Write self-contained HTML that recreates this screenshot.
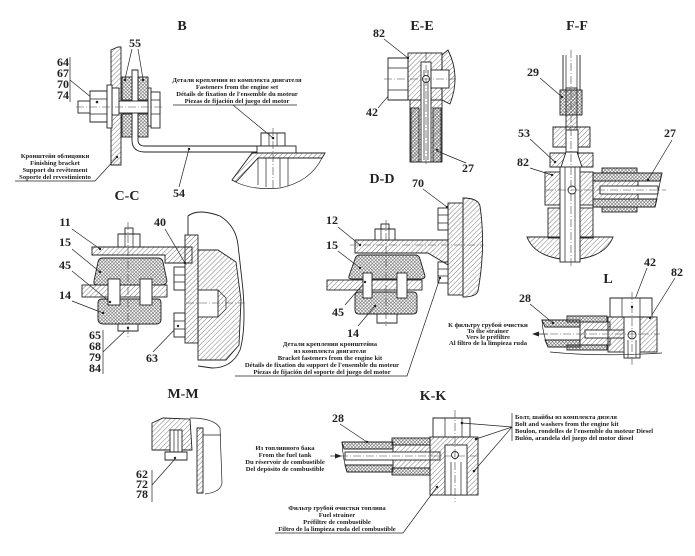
<!DOCTYPE html>
<html><head><meta charset="utf-8"><style>
html,body{margin:0;padding:0;background:#fff}
svg{display:block}
.s{fill:none;stroke:#222;stroke-width:0.9}
.h{fill:url(#h);stroke:#222;stroke-width:0.9}
.m{fill:url(#m);stroke:#222;stroke-width:0.9}
.w{fill:#fff;stroke:#222;stroke-width:0.9}
.c{fill:none;stroke:#444;stroke-width:0.6;stroke-dasharray:8 2 1 2}
.l{fill:none;stroke:#222;stroke-width:0.7}
.d{fill:#222}
text{font-family:"Liberation Serif","DejaVu Serif",serif;font-weight:bold;fill:#222}
.t{font-size:14px;text-anchor:middle}
.n{font-size:12px;text-anchor:middle}
.x{font-size:6.6px;text-anchor:middle}
.xl{font-size:6.6px}
</style></head><body>
<svg width="695" height="556" viewBox="0 0 695 556" xmlns="http://www.w3.org/2000/svg">
<defs>
<pattern id="h" width="3.5" height="3.5" patternUnits="userSpaceOnUse" patternTransform="rotate(45)"><line x1="0" y1="0" x2="0" y2="3.5" stroke="#333" stroke-width="0.65"/></pattern>
<pattern id="m" width="3.4" height="3.4" patternUnits="userSpaceOnUse"><path d="M0,0 L3.4,3.4 M3.4,0 L0,3.4" stroke="#555" stroke-width="0.5"/></pattern>
</defs>

<!-- ===== B ===== -->
<text class="t" x="182" y="30">B</text>
<text class="n" x="135" y="47">55</text>
<path class="l" d="M132,49 L125,79 M138,49 L143,79"/>
<text class="n" x="63" y="66">64</text>
<text class="n" x="63" y="77">67</text>
<text class="n" x="63" y="88">70</text>
<text class="n" x="63" y="99">74</text>
<path class="l" d="M70,57 V102 M70,80 L97,102"/>
<path class="h" d="M111,50 L118,47 L121,47 L121,165 L111,165 Z"/>
<path class="w" d="M132,70 L138,70 L138,140 Q138,146 145,146 L262,146 L262,152 L145,152 Q132,152 132,140 Z"/>
<rect class="m" x="122" y="77" width="10" height="23"/>
<rect class="m" x="138" y="77" width="10" height="23"/>
<rect class="m" x="122" y="114" width="10" height="23"/>
<rect class="m" x="138" y="114" width="10" height="23"/>
<rect class="w" x="78" y="101" width="82" height="12"/>
<rect class="w" x="112" y="88" width="7" height="27"/>
<path class="w" d="M90,91 L107,91 L107,122 L90,122 Z"/>
<path class="l" d="M90,99 H107 M90,114 H107"/>
<rect class="w" x="107" y="85" width="5" height="43"/>
<rect class="w" x="148" y="88" width="3" height="38"/>
<rect class="w" x="151" y="92" width="9" height="36"/>
<path class="l" d="M151,100 H160 M151,114 H160"/>
<path class="c" d="M76,107 H164"/>
<circle class="d" cx="97" cy="102" r="1.3"/>
<circle class="d" cx="125" cy="80" r="1.2"/>
<circle class="d" cx="143" cy="80" r="1.2"/>
<!-- engine side -->
<path class="w" d="M261,133 H285 V146 H261 Z"/>
<path class="l" d="M269,133 V146 M277,133 V146"/>
<rect class="w" x="257" y="146" width="39" height="7"/>
<path class="h" d="M252,153 L325,153 L322,158 L258,158 L236,182 L232,180 Z"/>
<path class="l" d="M258,158 V185 M266,158 V187 M280,158 V187 M288,158 V186"/>
<path class="l" d="M232,180 Q250,191 280,188 Q310,182 322,158"/>
<path class="c" d="M273,128 V190"/>
<circle class="d" cx="273" cy="138" r="1.3"/>
<text class="x" x="237" y="82">Детали крепления из комплекта двигателя</text>
<text class="x" x="237" y="89">Fasteners from the engine set</text>
<text class="x" x="237" y="96">Détails de fixation de l'ensemble du moteur</text>
<text class="x" x="237" y="103">Piezas de fijación del juego del motor</text>
<path class="l" d="M173,105 H297 M233,105 L273,138"/>
<text class="x" x="55" y="158">Кронштейн облицовки</text>
<text class="x" x="55" y="165">Finishing bracket</text>
<text class="x" x="55" y="172">Support du revêtement</text>
<text class="x" x="55" y="179">Soporte del revestimiento</text>
<path class="l" d="M15,181 H95 L117,157"/>
<circle class="d" cx="117" cy="157" r="1.2"/>
<text class="n" x="179" y="197">54</text>
<path class="l" d="M179,187 L189,149"/>
<circle class="d" cx="189" cy="149" r="1.2"/>

<!-- ===== E-E ===== -->
<text class="t" x="422" y="30">E-E</text>
<text class="n" x="379" y="37">82</text>
<path class="l" d="M384,39 L408,58"/>
<text class="n" x="372" y="116">42</text>
<path class="l" d="M378,108 L397,86"/>
<circle class="d" cx="397" cy="85" r="1.2"/>
<text class="n" x="468" y="172">27</text>
<path class="l" d="M466,163 L437,151"/>
<circle class="d" cx="437" cy="150" r="1.2"/>
<path class="w" d="M388,58 H408 V100 H388 Z"/>
<path class="l" d="M388,68 H408 M388,90 H408"/>
<rect class="h" x="408" y="53" width="34" height="47"/>
<path class="h" d="M442,55 L448,50 Q461,76 450,104 L442,100 Z"/>
<rect class="h" x="410" y="100" width="32" height="62"/>
<rect class="m" x="411" y="108" width="8" height="54"/>
<rect class="m" x="433" y="108" width="8" height="54"/>
<rect class="w" x="421" y="62" width="10" height="100"/>
<rect class="w" x="431" y="70" width="18" height="18"/>
<path class="l" d="M424,70 V160 M428,70 V160"/>
<circle class="w" cx="426" cy="79" r="3.5"/>
<path class="c" d="M384,79 H456 M426,52 V166"/>
<circle class="d" cx="408" cy="58" r="1.2"/>

<!-- ===== F-F ===== -->
<text class="t" x="577" y="30">F-F</text>
<path class="s" d="M563,55 V90 M580,55 V90"/>
<path class="l" d="M566,55 V90 M577,55 V90"/>
<rect class="m" x="560" y="90" width="22" height="25"/>
<rect class="h" x="566" y="88" width="11" height="47"/>
<path class="h" d="M553,127 H590 V147 H553 Z"/>
<rect class="w" x="566" y="130" width="12" height="25"/>
<path class="h" d="M550,153 H593 V167 H550 Z"/>
<path class="w" d="M561,167 L566,152 L577,152 L582,167 Z"/>
<rect class="h" x="545" y="172" width="48" height="33"/>
<rect class="h" x="548" y="208" width="45" height="30"/>
<path class="h" d="M527,237 H613 Q605,258 570,260 Q535,258 527,237 Z"/>
<rect class="w" x="560" y="167" width="20" height="95"/>
<path class="l" d="M565,167 V262 M575,167 V262"/>
<path class="m" d="M593,173 H662 L660,181 H593 Z"/>
<path class="m" d="M593,199 H657 L655,207 H593 Z"/>
<rect class="h" x="593" y="181" width="45" height="18"/>
<rect class="w" x="600" y="186" width="58" height="8"/>
<rect class="m" x="602" y="168" width="35" height="5"/>
<rect class="m" x="602" y="207" width="35" height="5"/>
<path class="l" d="M662,173 L655,207"/>
<circle class="w" cx="572" cy="190" r="4"/>
<path class="c" d="M571,50 V268 M545,190 H666"/>
<text class="n" x="533" y="76">29</text>
<path class="l" d="M540,78 L562,97"/>
<text class="n" x="524" y="137">53</text>
<path class="l" d="M530,139 L555,162"/>
<text class="n" x="523" y="166">82</text>
<path class="l" d="M530,168 L552,175"/>
<text class="n" x="670" y="137">27</text>
<path class="l" d="M672,140 L648,180"/>
<circle class="d" cx="562" cy="97" r="1.2"/><circle class="d" cx="555" cy="162" r="1.2"/><circle class="d" cx="552" cy="175" r="1.2"/><circle class="d" cx="648" cy="180" r="1.2"/>

<!-- ===== C-C ===== -->
<text class="t" x="127" y="200">C-C</text>
<text class="n" x="65" y="226">11</text>
<path class="l" d="M72,229 L100,249"/>
<text class="n" x="65" y="246">15</text>
<path class="l" d="M72,249 L100,272"/>
<text class="n" x="65" y="269">45</text>
<path class="l" d="M72,271 L110,302"/>
<text class="n" x="65" y="299">14</text>
<path class="l" d="M72,301 L103,313"/>
<text class="n" x="95" y="339">65</text>
<text class="n" x="95" y="350">68</text>
<text class="n" x="95" y="361">79</text>
<text class="n" x="95" y="372">84</text>
<path class="l" d="M103,330 V374 M103,352 L128,328"/>
<text class="n" x="152" y="362">63</text>
<path class="l" d="M153,352 L178,326"/>
<text class="n" x="160" y="226">40</text>
<path class="l" d="M165,229 L185,263"/>
<!-- engine block -->
<path class="s" d="M188,235 L188,216 Q198,208 220,216 Q236,226 238,245 Q240,262 243,290 Q246,330 240,350 Q232,368 212,368 L198,366"/>
<path class="h" d="M198,250 L218,250 L236,262 L241,300 L239,345 L226,360 L198,360 Z"/>
<rect class="w" x="198" y="290" width="20" height="27"/>
<path class="l" d="M218,290 L226,298 L226,309 L218,317"/>
<rect class="h" x="185" y="235" width="13" height="108"/>
<rect class="w" x="174" y="267" width="11" height="23"/>
<rect class="w" x="174" y="313" width="11" height="24"/>
<path class="l" d="M174,275 H185 M174,282 H185 M174,321 H185 M174,329 H185"/>
<path class="c" d="M186,303 H245"/>
<!-- mount -->
<path class="h" d="M92,247 L192,247 L192,263 L165,263 L165,255 L92,255 Z"/>
<rect class="w" x="125" y="228" width="8" height="6"/>
<path class="w" d="M118,234 H140 V247 H118 Z"/>
<path class="l" d="M125,234 V247 M133,234 V247"/>
<path class="m" d="M102,258 L158,258 Q162,258 163,262 L167,281 Q166,285 162,285 L98,285 Q93,285 94,281 L98,262 Q99,258 102,258 Z"/>
<rect class="h" x="82" y="285" width="85" height="12"/>
<path class="m" d="M102,299 L158,299 Q161,299 161,303 L161,319 Q161,324 156,324 L104,324 Q98,324 98,319 L98,303 Q98,299 102,299 Z"/>
<rect class="w" x="108" y="279" width="12" height="26"/>
<rect class="w" x="140" y="279" width="12" height="26"/>
<path class="w" d="M118,324 H138 V331 H118 Z"/>
<path class="c" d="M128,222 V337"/>
<circle class="d" cx="100" cy="249" r="1.2"/><circle class="d" cx="100" cy="272" r="1.2"/><circle class="d" cx="110" cy="302" r="1.2"/><circle class="d" cx="103" cy="313" r="1.2"/><circle class="d" cx="128" cy="328" r="1.2"/><circle class="d" cx="178" cy="326" r="1.2"/><circle class="d" cx="185" cy="263" r="1.2"/>

<!-- ===== D-D ===== -->
<text class="t" x="382" y="183">D-D</text>
<text class="n" x="418" y="187">70</text>
<path class="l" d="M423,189 L447,207"/>
<text class="n" x="332" y="224">12</text>
<path class="l" d="M338,227 L360,245"/>
<text class="n" x="332" y="249">15</text>
<path class="l" d="M338,251 L360,268"/>
<text class="n" x="338" y="316">45</text>
<path class="l" d="M345,305 L365,282"/>
<text class="n" x="353" y="337">14</text>
<path class="l" d="M358,326 L375,306"/>
<path class="h" d="M463,198 Q478,198 480,206 Q486,247 478,291 Q476,297 463,297 Z"/>
<rect class="h" x="448" y="203" width="15" height="92"/>
<rect class="w" x="438" y="208" width="10" height="22"/>
<rect class="w" x="438" y="262" width="10" height="21"/>
<path class="l" d="M438,215 H448 M438,223 H448 M438,269 H448 M438,276 H448"/>
<path class="h" d="M355,240 L448,240 L448,265 L428,253 L355,253 Z"/>
<rect class="w" x="381" y="224" width="8" height="5"/>
<path class="w" d="M375,229 H395 V240 H375 Z"/>
<path class="l" d="M381,229 V240 M389,229 V240"/>
<path class="m" d="M360,255 L415,255 Q419,255 420,259 L425,276 Q425,279 421,279 L352,279 Q348,279 349,276 L355,259 Q356,255 360,255 Z"/>
<rect class="h" x="327" y="280" width="95" height="10"/>
<path class="m" d="M359,292 L413,292 Q417,292 417,296 L417,310 Q417,314 413,314 L359,314 Q355,314 355,310 L355,296 Q355,292 359,292 Z"/>
<rect class="w" x="363" y="273" width="9" height="25"/>
<rect class="w" x="397" y="273" width="10" height="25"/>
<path class="w" d="M377,314 H397 V323 H377 Z"/>
<path class="c" d="M350,245 H484 M386,220 V326"/>
<circle class="d" cx="447" cy="207" r="1.2"/><circle class="d" cx="360" cy="245" r="1.2"/><circle class="d" cx="360" cy="268" r="1.2"/><circle class="d" cx="365" cy="282" r="1.2"/><circle class="d" cx="375" cy="306" r="1.2"/><circle class="d" cx="440" cy="278" r="1.2"/>
<text class="x" x="330" y="346">Детали крепления кронштейна</text>
<text class="x" x="330" y="353">из комплекта двигателя</text>
<text class="x" x="330" y="360">Bracket fasteners from the engine kit</text>
<text class="x" x="322" y="367">Détails de fixation du support de l'ensemble du moteur</text>
<text class="x" x="322" y="374">Piezas de fijación del soporte del juego del motor</text>
<path class="l" d="M235,376 H407 L440,278"/>

<!-- ===== L ===== -->
<text class="t" x="608" y="283">L</text>
<text class="n" x="650" y="266">42</text>
<path class="l" d="M647,268 L632,307"/>
<text class="n" x="677" y="276">82</text>
<path class="l" d="M675,278 L650,318"/>
<text class="n" x="525" y="302">28</text>
<path class="l" d="M530,304 L553,323"/>
<text class="x" x="488" y="327">К фильтру грубой очистки</text>
<text class="x" x="488" y="333">To the strainer</text>
<text class="x" x="488" y="339">Vers le préfiltre</text>
<text class="x" x="488" y="345">Al filtro de la limpieza ruda</text>
<path class="l" d="M548,334 H537"/>
<path class="d" d="M532,334 L539,331.5 L539,336.5 Z"/>
<path class="m" d="M542,320 H580 V327 H545 Z"/>
<path class="m" d="M545,340 H580 V347 H548 Z"/>
<path class="l" d="M542,320 Q543,335 548,347"/>
<rect class="m" x="567" y="316" width="40" height="6"/>
<rect class="m" x="567" y="345" width="40" height="5"/>
<rect class="h" x="580" y="322" width="30" height="23"/>
<rect class="w" x="585" y="330" width="40" height="8"/>
<rect class="h" x="608" y="317" width="49" height="35"/>
<rect class="w" x="624" y="310" width="16" height="48"/>
<path class="w" d="M610,298 H652 V317 H610 Z"/>
<path class="l" d="M622,298 V317 M640,298 V317 M628,340 V358 M636,340 V358"/>
<circle class="w" cx="632" cy="335" r="4"/>
<path class="l" d="M550,352 Q600,357 662,353"/>
<path class="c" d="M632,292 V365 M550,334 H660"/>
<circle class="d" cx="632" cy="307" r="1.2"/><circle class="d" cx="650" cy="318" r="1.2"/><circle class="d" cx="553" cy="323" r="1.2"/>

<!-- ===== M-M ===== -->
<text class="t" x="183" y="398">M-M</text>
<path class="l" d="M190,418 Q214,418 220,428 L222,483 Q221,492 205,494"/>
<path class="h" d="M152,423 L163,418 L190,419 L192,450 L152,450 Z"/>
<rect class="w" x="170" y="430" width="12" height="22"/>
<path class="l" d="M174,430 V452 M178,430 V452"/>
<path class="w" d="M165,452 H187 V460 H165 Z"/>
<path class="h" d="M197,428 H203 V493 H197 Z"/>
<path class="l" d="M203,435 H221"/>
<text class="n" x="142" y="478">62</text>
<text class="n" x="142" y="488">72</text>
<text class="n" x="142" y="498">78</text>
<path class="l" d="M152,470 V502 M152,485 L175,459"/>
<circle class="d" cx="175" cy="458" r="1.2"/>

<!-- ===== K-K ===== -->
<text class="t" x="433" y="400">K-K</text>
<text class="n" x="338" y="422">28</text>
<path class="l" d="M340,424 L367,442"/>
<text class="x" x="285" y="450">Из топливного бака</text>
<text class="x" x="285" y="457">From the fuel tank</text>
<text class="x" x="285" y="464">Du réservoir de combustible</text>
<text class="x" x="285" y="471">Del depósito de combustible</text>
<path class="l" d="M330,456 H336"/>
<path class="d" d="M342,456 L335,453.5 L335,458.5 Z"/>
<path class="m" d="M342,442 H393 V449 H344 Z"/>
<path class="m" d="M345,465 H393 V472 H347 Z"/>
<path class="l" d="M342,442 Q343,460 347,472"/>
<rect class="m" x="392" y="438" width="38" height="7"/>
<rect class="m" x="392" y="468" width="38" height="7"/>
<rect class="h" x="393" y="445" width="37" height="23"/>
<rect class="w" x="345" y="452" width="95" height="8"/>
<rect class="h" x="430" y="437" width="48" height="58"/>
<rect class="w" x="445" y="445" width="22" height="50"/>
<path class="l" d="M451,462 V495 M461,462 V495"/>
<path class="w" d="M433,418 H470 V437 H433 Z"/>
<path class="l" d="M445,418 V437 M462,418 V437"/>
<circle class="w" cx="455" cy="455" r="3.5"/>
<path class="c" d="M455,410 V502 M340,456 H480"/>
<text class="x" x="337" y="510">Фильтр грубой очистки топлива</text>
<text class="x" x="337" y="517">Fuel strainer</text>
<text class="x" x="337" y="524">Préfiltre de combustible</text>
<text class="x" x="337" y="531">Filtro de la limpieza ruda del combustible</text>
<path class="l" d="M275,533 H403 L437,487"/>
<circle class="d" cx="437" cy="487" r="1.2"/>
<text class="xl" x="515" y="419">Болт, шайбы из комплекта дизеля</text>
<text class="xl" x="515" y="426">Bolt and washers from the engine kit</text>
<text class="xl" x="515" y="433">Boulon, rondelles de l'ensemble du moteur Diesel</text>
<text class="xl" x="515" y="440">Bulón, arandela del juego del motor diesel</text>
<path class="l" d="M512,413 V441 M512,427 L462,423 M512,427 L476,439 M512,427 L474,471"/>
<circle class="d" cx="462" cy="423" r="1.3"/><circle class="d" cx="476" cy="439" r="1.3"/><circle class="d" cx="474" cy="471" r="1.3"/>
<circle class="d" cx="367" cy="442" r="1.2"/>
</svg>
</body></html>
